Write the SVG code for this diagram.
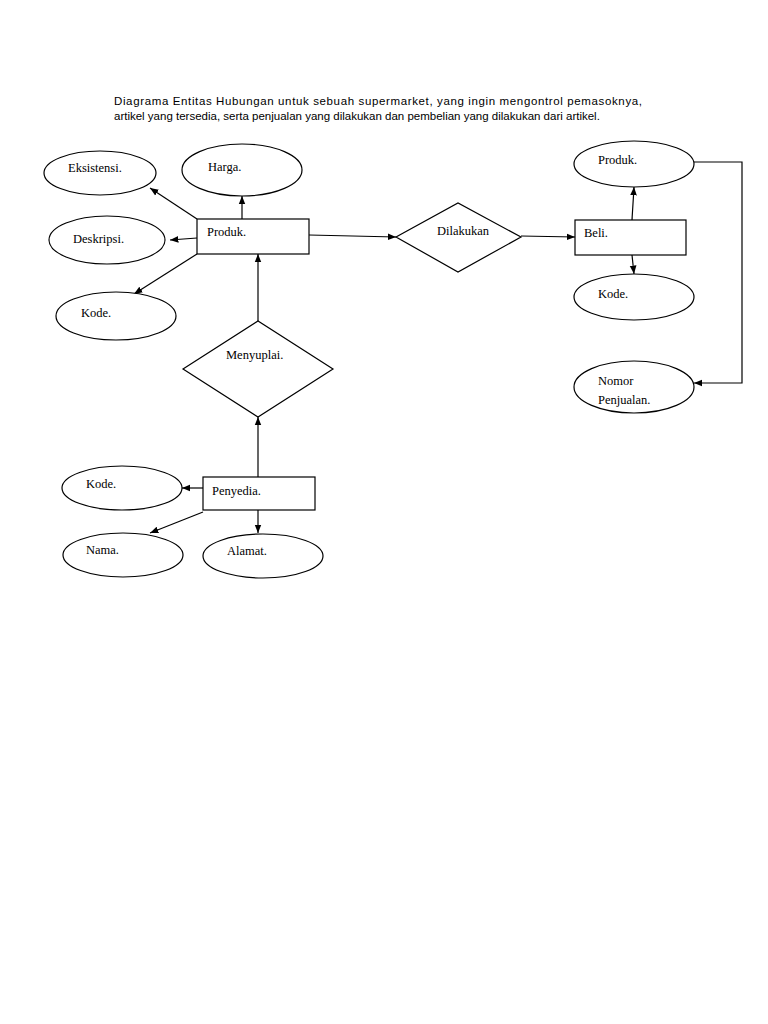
<svg xmlns="http://www.w3.org/2000/svg" width="768" height="1024" viewBox="0 0 768 1024">
<style>
.s{fill:#fff;stroke:#000;stroke-width:1.2}
.l{font-family:"Liberation Serif",serif;font-size:12.5px;fill:#000}
.t{font-family:"Liberation Sans",sans-serif;font-size:11.5px;fill:#000}
.c{fill:none;stroke:#000;stroke-width:1.2;marker-end:url(#a)}
</style>
<defs><marker id="a" viewBox="0 0 10 10" refX="10" refY="5" markerWidth="7" markerHeight="7" orient="auto"><path d="M0,1L10,5L0,9z" fill="#000"/></marker></defs>
<rect width="768" height="1024" fill="#fff"/>
<text class="t" x="114" y="105" textLength="528" lengthAdjust="spacing">Diagrama Entitas Hubungan untuk sebuah supermarket, yang ingin mengontrol pemasoknya,</text>
<text class="t" x="114" y="120">artikel yang tersedia, serta penjualan yang dilakukan dan pembelian yang dilakukan dari artikel.</text>
<g id="connectors">
<path class="c" d="M197,219L150,188"/>
<path class="c" d="M242,219L242,196"/>
<path class="c" d="M197,238L170,240"/>
<path class="c" d="M197,254L134,294"/>
<path class="c" d="M309,235L396,237"/>
<path class="c" d="M521,236L575,237"/>
<path class="c" d="M632,220L634,187"/>
<path class="c" d="M632,255L634,274"/>
<path class="c" d="M694,162L742,162L742,383L694,383"/>
<path class="c" d="M258,321L258,254"/>
<path class="c" d="M258,477L258,417"/>
<path class="c" d="M203,488L182,488"/>
<path class="c" d="M203,512L150,533"/>
<path class="c" d="M258,510L258,533"/>
</g>
<g id="eksistensi"><ellipse class="s" cx="100" cy="173" rx="56" ry="22"/><text class="l" x="68" y="172">Eksistensi.</text></g>
<g id="harga"><ellipse class="s" cx="242" cy="170" rx="60" ry="26"/><text class="l" x="208" y="171">Harga.</text></g>
<g id="deskripsi"><ellipse class="s" cx="107" cy="240" rx="58" ry="24"/><text class="l" x="73" y="243">Deskripsi.</text></g>
<g id="kode1"><ellipse class="s" cx="116" cy="316" rx="60" ry="24"/><text class="l" x="81" y="317">Kode.</text></g>
<g id="produk"><rect class="s" x="197" y="219" width="112" height="35"/><text class="l" x="207" y="236">Produk.</text></g>
<g id="dilakukan"><path class="s" d="M396,237L458,203L521,237L458,272z"/><text class="l" x="437" y="235">Dilakukan</text></g>
<g id="beli"><rect class="s" x="575" y="220" width="111" height="35"/><text class="l" x="584" y="237">Beli.</text></g>
<g id="produk2"><ellipse class="s" cx="634" cy="164" rx="60" ry="23"/><text class="l" x="598" y="164">Produk.</text></g>
<g id="kode2"><ellipse class="s" cx="634" cy="297" rx="60" ry="23"/><text class="l" x="598" y="298">Kode.</text></g>
<g id="nomor"><ellipse class="s" cx="634" cy="387" rx="60" ry="26"/><text class="l" x="598" y="385">Nomor</text><text class="l" x="598" y="404">Penjualan.</text></g>
<g id="menyuplai"><path class="s" d="M183,369L258,321L333,369L258,417z"/><text class="l" x="226" y="359">Menyuplai.</text></g>
<g id="penyedia"><rect class="s" x="203" y="477" width="112" height="33"/><text class="l" x="212" y="495">Penyedia.</text></g>
<g id="kode3"><ellipse class="s" cx="122" cy="488" rx="60" ry="22"/><text class="l" x="86" y="488">Kode.</text></g>
<g id="nama"><ellipse class="s" cx="123" cy="555" rx="60" ry="22"/><text class="l" x="86" y="554">Nama.</text></g>
<g id="alamat"><ellipse class="s" cx="263" cy="556" rx="60" ry="22"/><text class="l" x="227" y="555">Alamat.</text></g>
</svg>
